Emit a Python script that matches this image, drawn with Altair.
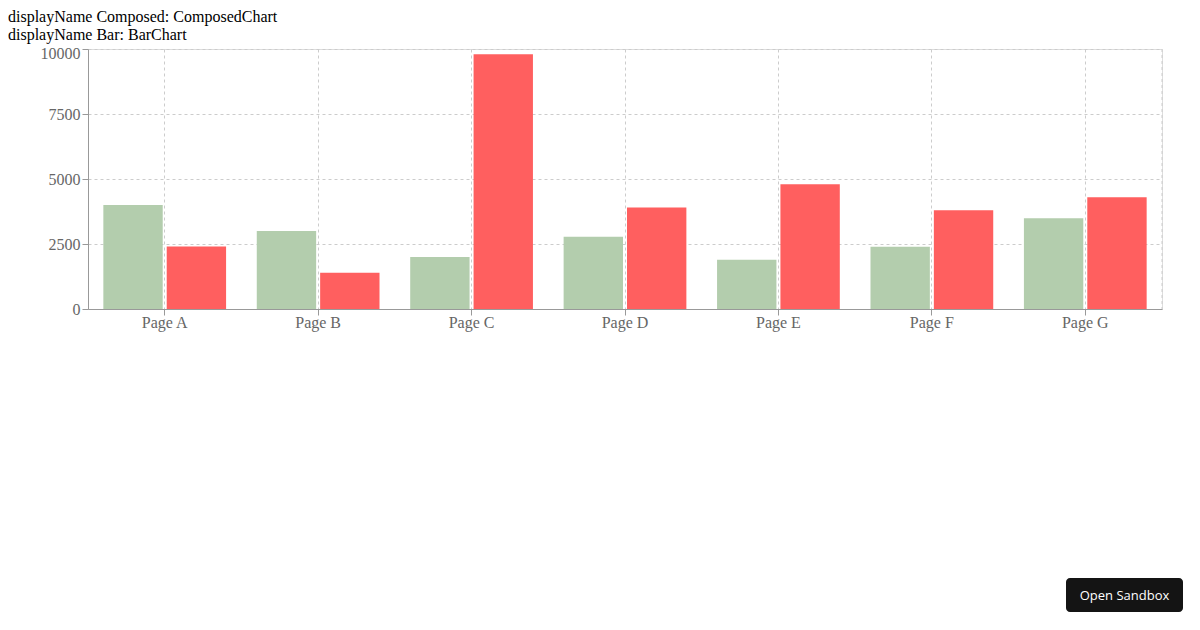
import altair as alt
import pandas as pd

pages = ["Page A", "Page B", "Page C", "Page D", "Page E", "Page F", "Page G"]
uv = [4000, 3000, 2000, 2780, 1890, 2390, 3490]
pv = [2400, 1398, 9800, 3908, 4800, 3800, 4300]
series_names = ["uv", "pv"]
series_colors = ["#b3cdad", "#ff5f5f"]
y_ticks = [0, 2500, 5000, 7500, 10000]

rows = []
for p, a, b in zip(pages, uv, pv):
    rows.append({"name": p, "series": "uv", "value": a})
    rows.append({"name": p, "series": "pv", "value": b})
df = pd.DataFrame(rows)

W, H = 1074, 260

bars = alt.Chart(df).mark_bar(clip=False).encode(
    x=alt.X("name:N", sort=pages, title=None,
            scale=alt.Scale(paddingInner=0.2, paddingOuter=0.1),
            axis=alt.Axis(labelAngle=0, labelFont="Liberation Serif", labelFontSize=16,
                          labelColor="#666", domainColor="#999", tickColor="#999",
                          tickSize=6, labelPadding=-1, bandPosition=0.5,
                          grid=True, gridDash=[3, 3], gridColor="#ccc")),
    xOffset=alt.XOffset("series:N", sort=series_names,
                        scale=alt.Scale(paddingInner=0.063, paddingOuter=0)),
    y=alt.Y("value:Q", title=None,
            scale=alt.Scale(domain=[0, 10000], nice=False),
            axis=alt.Axis(values=y_ticks, format="d", labelFont="Liberation Serif",
                          labelFontSize=16, labelColor="#666", domainColor="#999",
                          tickColor="#999", tickSize=6, labelPadding=2,
                          labelOffset={"condition": {"test": "datum.value == 10000", "value": 4},
                                       "value": 0},
                          grid=True, gridDash=[3, 3], gridColor="#ccc")),
    color=alt.Color("series:N", sort=series_names,
                    scale=alt.Scale(domain=series_names, range=series_colors),
                    legend=None),
)

right_edge = alt.Chart(pd.DataFrame({"v": [0]})).mark_rule(
    color="#ccc", strokeDash=[3, 3]
).encode(x=alt.value(W), y=alt.value(0), y2=alt.value(H))

button = alt.Chart(pd.DataFrame({"v": [0]})).mark_rect(
    color="#141414", cornerRadius=4, clip=False
).encode(x=alt.value(978), x2=alt.value(1095), y=alt.value(529), y2=alt.value(563))

button_text = alt.Chart(pd.DataFrame({"t": ["Open Sandbox"]})).mark_text(
    color="white", font="Open Sans", fontSize=13, clip=False
).encode(x=alt.value(1036.5), y=alt.value(546.5), text="t:N")

chart = alt.layer(right_edge, bars, button, button_text).properties(
    width=W, height=H,
    padding={"top": 1, "left": 0, "right": 0, "bottom": 0},
    title=alt.TitleParams(
        text=["displayName Composed: ComposedChart", "displayName Bar: BarChart"],
        anchor="start", frame="group", dx=-80, font="Liberation Serif",
        fontSize=16, fontWeight="normal", color="black", lineHeight=18, offset=2,
    ),
).configure_view(stroke=None).configure(background="white")

chart.save("out.html", embed_options={"renderer": "svg", "actions": False})
